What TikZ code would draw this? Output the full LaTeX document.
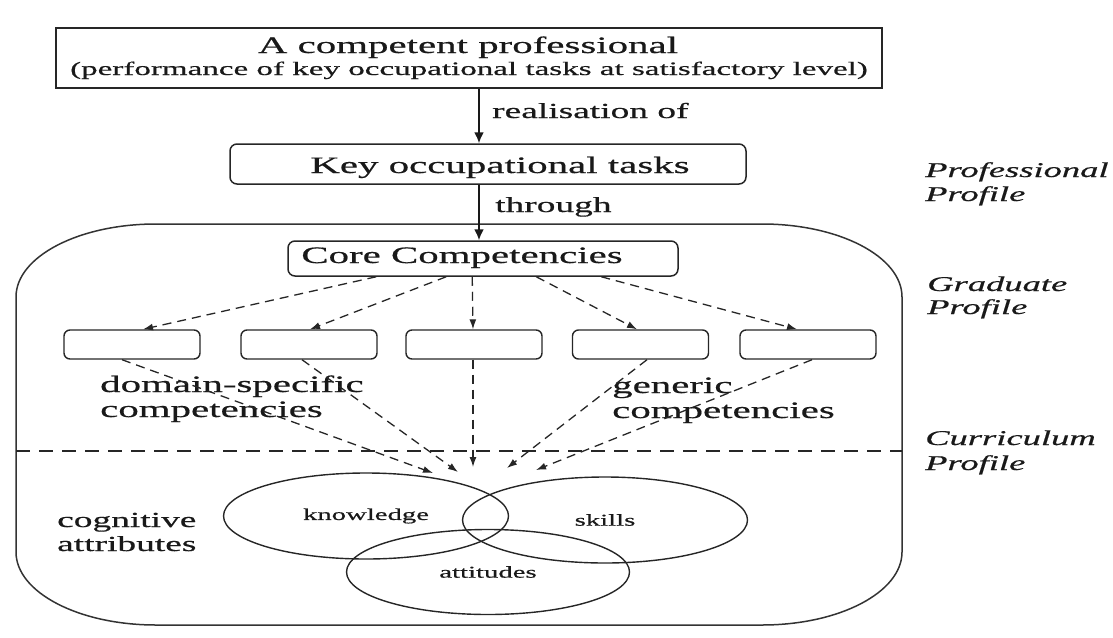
\documentclass[tikz,border=0pt]{standalone}
\usepackage{fontspec}
\setmainfont{Liberation Serif}[FakeStretch=1.74, FakeBold=0.6]
\usetikzlibrary{shapes.geometric,arrows.meta,calc}
\begin{document}
\begin{tikzpicture}[x=1pt,y=-1pt,
  box/.style={draw=black!85, line width=1.5pt, inner sep=0pt},
  rbox/.style={box, rounded corners=7pt},
  txt/.style={inner sep=0pt, anchor=base west, text=black!90},
  big/.style={font=\fontsize{23.5}{28}\selectfont},
  mid/.style={font=\fontsize{21.5}{26}\selectfont},
  small/.style={font=\fontsize{19}{23}\selectfont},
  side/.style={txt, font=\fontsize{21}{25}\selectfont\itshape},
  solidarrow/.style={draw=black!90, line width=1.9pt, -{Latex[length=11pt,width=10pt]}},
  dasharrow/.style={draw=black!85, line width=1.3pt, dash pattern=on 9pt off 6pt, -{Latex[length=10pt,width=7pt]}},
  venn/.style={draw=black!85, line width=1.4pt, ellipse, inner sep=0pt, text=black!90, font=\fontsize{16.5}{20}\selectfont},
  frame/.style={draw=black!80, line width=1.5pt},
]
\useasboundingbox (0,0) rectangle (1113,637);

% outer frame with elliptical corners
\draw[frame] (16,297) arc[start angle=180, end angle=270, x radius=140, y radius=73]
  -- (762,224) arc[start angle=-90, end angle=0, x radius=140, y radius=73]
  -- (902,552) arc[start angle=0, end angle=90, x radius=140, y radius=73]
  -- (156,625) arc[start angle=90, end angle=180, x radius=140, y radius=73]
  -- cycle;

% top box
\node[box, line width=1.9pt, minimum width=826pt, minimum height=60pt] (top) at (469,58) {};
\node[txt, big, anchor=base] (topa) at (468,53) {A competent professional};
\node[txt, small, anchor=base] (topb) at (469,75) {(performance of key occupational tasks at satisfactory level)};

% key tasks
\node[rbox, minimum width=516pt, minimum height=40pt] (key) at (488,164) {};
\node[txt, big, anchor=base] (keyt) at (500,173) {Key occupational tasks};

% core competencies
\node[rbox, minimum width=390pt, minimum height=35pt] (core) at (483,258.5) {};
\node[txt, big, anchor=base] (coret) at (462,263) {Core Competencies};

% solid arrows
\coordinate (ax) at (479,0);
\draw[solidarrow] (top.south -| ax) -- (key.north -| ax);
\draw[solidarrow] (key.south -| ax) -- (core.north -| ax);
\node[txt, mid] (real) at (492,118) {realisation of};
\node[txt, mid] (thr) at (495,212) {through};

% small boxes
\foreach \i/\x in {1/132,2/309,3/474,4/640.5,5/808}
  \node[rbox, line width=1.4pt, rounded corners=6pt, minimum width=136pt, minimum height=29pt] (b\i) at (\x,344.5) {};

% labels
\node[txt, big] (ds1) at (100,392) {domain-specific};
\node[txt, big] (ds2) at (100,417) {competencies};
\node[txt, big] (gc1) at (612,393) {generic};
\node[txt, big] (gc2) at (612,418) {competencies};
\node[txt, mid] (cog1) at (57,527) {cognitive};
\node[txt, mid] (cog2) at (57,551) {attributes};

% dashed arrows core -> boxes
\draw[dasharrow] ($(core.south west)+(89,0)$) -- ($(b1.north)+(11,0)$);
\draw[dasharrow] ($(core.south west)+(159,0)$) -- ($(b2.north)+(1,0)$);
\draw[dasharrow] ($(core.south west)+(185,0)$) -- ($(b3.north)+(-1,0)$);
\draw[dasharrow] ($(core.south west)+(249,0)$) -- ($(b4.north)+(-3.5,0)$);
\draw[dasharrow] ($(core.south west)+(314,0)$) -- ($(b5.north)+(-11,0)$);

% dashed arrows boxes -> attributes
\coordinate (e1) at (433,473);
\coordinate (e2) at (458,472);
\coordinate (e3) at (473,467);
\coordinate (e4) at (507,468);
\coordinate (e5) at (536,470);
\draw[dasharrow] ($(b1.south)+(-10,0)$) -- (e1);
\draw[dasharrow] ($(b2.south)+(-7,0)$) -- (e2);
\draw[dasharrow] ($(b3.south)+(-1,0)$) -- (e3);
\draw[dasharrow] ($(b4.south)+(6.5,0)$) -- (e4);
\draw[dasharrow] ($(b5.south)+(4,0)$) -- (e5);

% dashed separator
\coordinate (dl) at (16,451);
\coordinate (dr) at (902,451);
\draw[draw=black!85, line width=1.4pt, dash pattern=on 14pt off 9pt] (dl) -- (dr);

% venn ellipses
\node[venn, minimum width=285pt, minimum height=86pt] (kn) at (366,516) {knowledge};
\node[venn, minimum width=285pt, minimum height=86pt] (sk) at (605,520) {skills};
\node[venn, minimum width=283pt, minimum height=85pt] (att) at (488,572) {attitudes};

% side labels
\node[side] (pp1) at (925,177) {Professional};
\node[side] (pp2) at (925,201) {Profile};
\node[side] (gp1) at (927,291) {Graduate};
\node[side] (gp2) at (927,314) {Profile};
\node[side] (cp1) at (925,445) {Curriculum};
\node[side] (cp2) at (925,470) {Profile};
\end{tikzpicture}
\end{document}
